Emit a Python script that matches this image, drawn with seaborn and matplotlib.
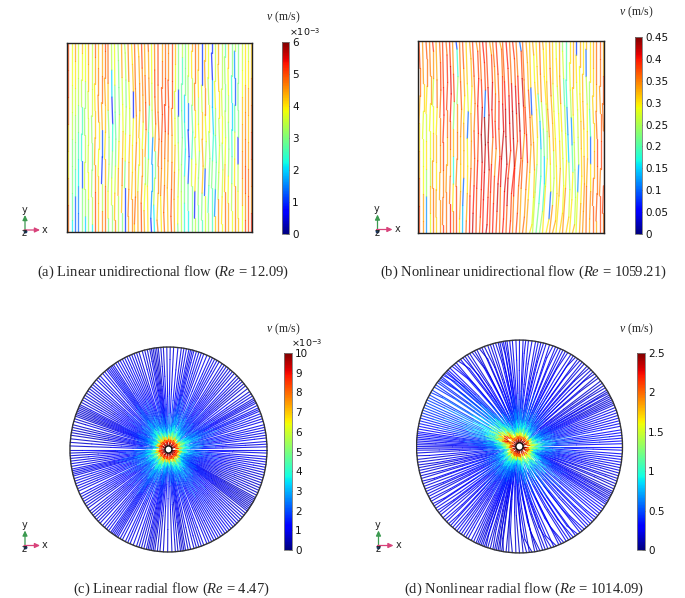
import numpy as np
import pandas as pd
import seaborn as sns
import matplotlib
matplotlib.use('Agg')
import matplotlib.pyplot as plt
from matplotlib.cm import ScalarMappable
from matplotlib.colors import Normalize
from matplotlib.patches import Circle

# streamline positions (px across the panel)
a_x = [1.5, 5, 8, 11.5, 15, 18, 21.5, 25, 28, 31.5, 35, 38, 41.5, 45, 48, 51.5, 55, 58, 61.5, 65, 68, 71.5, 75, 78,
       81.5, 85, 88, 91.5, 95, 98, 101.5, 105, 108, 111.5, 115, 118, 121.5, 125, 128, 131.5, 135, 138, 141.5, 145,
       148, 151.5, 155, 158, 161.5, 165, 168, 171.5, 175, 178, 181, 184]
b_x = [1.5, 5, 8.5, 12, 15, 18.5, 22, 25, 28.5, 32, 35, 38.5, 42, 45, 48.5, 52, 55, 58.5, 62, 65, 68.5, 72, 75, 78.5,
       82, 85, 88.5, 92, 95, 98.5, 102, 105, 108.5, 112, 115, 118.5, 122, 125, 128.5, 132, 135, 138.5, 142, 145,
       148.5, 152, 155, 158.5, 162, 165, 168.5, 172, 175, 178.5, 182, 185]

# speed per line, top to bottom (x 1e-3 m/s)
a_speed = [
    [5.0, 5.0, 4.8, 4.2, 4.0, 4.4, 4.8], [3.8, 3.6, 3.4, 3.0, 3.0, 2.8, 2.2], [4.4, 4.0, 3.6, 3.2, 3.0, 2.6, 1.3],
    [3.6, 3.4, 3.0, 2.6, 2.2, 1.6, 1.4], [4.2, 3.8, 3.4, 2.6, 2.4, 1.2, 3.0], [3.8, 3.2, 3.2, 3.4, 3.6, 3.2, 2.0],
    [4.4, 4.2, 3.6, 3.6, 3.6, 3.8, 3.2], [3.6, 3.6, 3.2, 3.0, 3.2, 3.4, 2.2], [4.8, 4.4, 4.0, 4.2, 4.4, 4.6, 5.0],
    [4.2, 4.6, 4.6, 4.0, 3.8, 4.2, 4.2], [4.4, 4.8, 4.4, 1.2, 1.0, 3.4, 4.6], [5.0, 4.8, 4.4, 4.2, 4.0, 4.4, 4.8],
    [4.8, 4.2, 3.2, 3.2, 3.4, 3.8, 3.0], [3.4, 2.0, 0.9, 2.4, 3.0, 3.6, 3.2], [3.8, 3.0, 2.8, 3.0, 3.6, 4.2, 4.6],
    [3.2, 3.0, 3.0, 3.4, 4.0, 4.4, 3.4], [4.4, 3.6, 3.8, 4.2, 4.6, 4.2, 3.0], [3.4, 3.4, 3.0, 3.4, 3.8, 3.0, 1.0],
    [4.6, 3.8, 3.6, 4.2, 4.4, 4.6, 4.4], [4.0, 4.2, 0.9, 3.8, 4.0, 4.2, 4.6], [4.8, 4.6, 4.4, 4.6, 4.4, 4.8, 4.2],
    [4.2, 4.4, 4.6, 4.2, 4.0, 3.6, 4.4], [5.0, 4.6, 4.4, 3.8, 4.4, 4.6, 5.0], [4.4, 4.8, 5.0, 4.4, 3.2, 3.8, 4.4],
    [4.8, 4.4, 4.6, 2.8, 2.4, 3.4, 4.0], [3.8, 3.6, 3.4, 1.6, 1.8, 1.6, 0.9], [4.6, 5.0, 4.8, 4.4, 3.0, 3.4, 2.2],
    [5.0, 4.6, 4.8, 4.8, 4.6, 4.2, 4.6], [4.4, 4.8, 5.0, 5.0, 4.8, 4.6, 4.0], [4.8, 5.0, 5.2, 4.8, 4.4, 4.8, 4.8],
    [4.6, 4.6, 5.0, 5.0, 4.6, 4.4, 4.2], [5.0, 5.0, 4.6, 4.4, 4.8, 5.0, 5.0], [4.2, 3.8, 3.6, 3.8, 4.2, 4.6, 4.4],
    [3.0, 1.0, 3.0, 3.4, 3.6, 3.8, 3.0], [3.4, 2.6, 2.8, 2.8, 3.0, 3.2, 3.4], [3.0, 3.0, 2.0, 2.4, 2.2, 3.0, 2.4],
    [3.6, 3.2, 1.4, 1.0, 1.2, 2.8, 2.2], [4.4, 4.0, 3.4, 2.8, 2.6, 3.6, 3.0], [4.8, 4.6, 4.0, 3.6, 4.0, 0.9, 3.4],
    [4.4, 4.0, 3.4, 3.8, 3.2, 3.2, 2.8], [1.0, 3.6, 4.2, 4.4, 4.2, 3.0, 2.6], [4.2, 4.4, 4.6, 3.8, 3.4, 1.2, 3.6],
    [3.8, 3.4, 3.8, 3.2, 3.0, 2.6, 3.2], [1.0, 0.9, 1.8, 2.0, 2.4, 3.0, 2.6], [3.6, 3.8, 3.2, 2.6, 2.8, 1.6, 4.2],
    [4.4, 4.2, 4.0, 3.4, 3.6, 3.4, 4.6], [3.4, 3.6, 3.8, 3.2, 3.6, 4.0, 3.8], [2.8, 3.2, 3.0, 3.4, 3.8, 4.2, 4.8],
    [4.2, 3.8, 3.4, 3.0, 3.2, 3.8, 4.4], [3.0, 2.4, 2.0, 2.4, 2.8, 3.4, 3.8], [3.4, 1.6, 1.2, 2.8, 3.6, 4.0, 4.6],
    [3.0, 3.0, 3.0, 0.9, 3.4, 3.8, 4.2], [3.6, 3.8, 4.2, 4.4, 4.6, 4.4, 3.8], [4.0, 4.4, 4.6, 4.8, 5.0, 4.6, 5.0],
    [3.6, 4.0, 4.4, 4.2, 4.4, 4.8, 5.0], [4.2, 4.6, 4.8, 5.0, 4.8, 4.6, 5.2]]

# speed per line, top to bottom (m/s)
b_speed = [
    [0.38, 0.36, 0.33, 0.31, 0.33, 0.36, 0.38], [0.34, 0.31, 0.28, 0.28, 0.29, 0.33, 0.34],
    [0.37, 0.36, 0.30, 0.27, 0.30, 0.24, 0.12], [0.35, 0.34, 0.29, 0.28, 0.26, 0.32, 0.28],
    [0.39, 0.34, 0.27, 0.29, 0.32, 0.34, 0.36], [0.33, 0.36, 0.30, 0.32, 0.30, 0.33, 0.31],
    [0.36, 0.38, 0.36, 0.35, 0.34, 0.33, 0.34], [0.38, 0.40, 0.39, 0.38, 0.35, 0.36, 0.39],
    [0.36, 0.39, 0.38, 0.36, 0.32, 0.34, 0.36], [0.39, 0.41, 0.40, 0.37, 0.33, 0.36, 0.40],
    [0.34, 0.38, 0.24, 0.32, 0.18, 0.30, 0.36], [0.08, 0.18, 0.24, 0.34, 0.36, 0.35, 0.38],
    [0.35, 0.37, 0.34, 0.32, 0.31, 0.33, 0.30], [0.37, 0.33, 0.30, 0.33, 0.33, 0.10, 0.14],
    [0.31, 0.28, 0.10, 0.29, 0.30, 0.33, 0.36], [0.33, 0.32, 0.30, 0.33, 0.34, 0.37, 0.40],
    [0.38, 0.36, 0.35, 0.38, 0.37, 0.40, 0.42], [0.34, 0.38, 0.40, 0.40, 0.38, 0.40, 0.38],
    [0.36, 0.39, 0.42, 0.43, 0.40, 0.39, 0.36], [0.40, 0.38, 0.10, 0.44, 0.42, 0.41, 0.40],
    [0.38, 0.41, 0.43, 0.42, 0.38, 0.40, 0.42], [0.33, 0.38, 0.41, 0.40, 0.36, 0.40, 0.38],
    [0.36, 0.34, 0.37, 0.39, 0.34, 0.38, 0.40], [0.39, 0.37, 0.40, 0.37, 0.40, 0.42, 0.38],
    [0.33, 0.36, 0.39, 0.41, 0.42, 0.41, 0.36], [0.37, 0.40, 0.42, 0.43, 0.41, 0.40, 0.40],
    [0.40, 0.38, 0.41, 0.40, 0.38, 0.42, 0.37], [0.36, 0.41, 0.43, 0.42, 0.40, 0.38, 0.39],
    [0.39, 0.37, 0.41, 0.38, 0.37, 0.40, 0.35], [0.35, 0.40, 0.43, 0.41, 0.37, 0.36, 0.38],
    [0.10, 0.38, 0.42, 0.38, 0.34, 0.37, 0.33], [0.36, 0.35, 0.38, 0.40, 0.36, 0.34, 0.36],
    [0.33, 0.32, 0.37, 0.35, 0.33, 0.30, 0.33], [0.31, 0.09, 0.32, 0.34, 0.31, 0.28, 0.30],
    [0.33, 0.29, 0.31, 0.31, 0.28, 0.24, 0.26], [0.30, 0.31, 0.20, 0.14, 0.20, 0.18, 0.22],
    [0.36, 0.34, 0.26, 0.22, 0.15, 0.19, 0.24], [0.33, 0.30, 0.30, 0.27, 0.24, 0.28, 0.30],
    [0.30, 0.32, 0.34, 0.31, 0.28, 0.10, 0.30], [0.34, 0.36, 0.33, 0.32, 0.26, 0.26, 0.34],
    [0.31, 0.28, 0.29, 0.30, 0.30, 0.31, 0.33], [0.28, 0.30, 0.27, 0.29, 0.31, 0.33, 0.30],
    [0.33, 0.34, 0.30, 0.28, 0.27, 0.29, 0.31], [0.24, 0.27, 0.21, 0.25, 0.28, 0.30, 0.34],
    [0.20, 0.18, 0.12, 0.15, 0.24, 0.27, 0.31], [0.30, 0.28, 0.25, 0.12, 0.20, 0.29, 0.30],
    [0.33, 0.31, 0.28, 0.26, 0.24, 0.26, 0.32], [0.08, 0.30, 0.28, 0.27, 0.25, 0.12, 0.28],
    [0.33, 0.29, 0.30, 0.32, 0.31, 0.30, 0.33], [0.30, 0.32, 0.33, 0.30, 0.33, 0.34, 0.34],
    [0.32, 0.10, 0.26, 0.29, 0.31, 0.33, 0.36], [0.30, 0.24, 0.20, 0.10, 0.30, 0.34, 0.33],
    [0.33, 0.31, 0.31, 0.31, 0.33, 0.36, 0.37], [0.36, 0.33, 0.36, 0.38, 0.36, 0.37, 0.33],
    [0.37, 0.36, 0.34, 0.37, 0.38, 0.35, 0.38], [0.33, 0.37, 0.36, 0.38, 0.35, 0.38, 0.36]]

# sideways drift of the lines (px), one row per height from the top, one column per x zone
a_bend = [[0, 0, 0, 0, 0, 0, 0], [0, 0, 1, 0, 0, 0, 0], [0, 0, 2, 0, 0, 1, 0], [0, 1, 2, 1, 0, 1, 0],
          [0, 1, 1, 0, 1, 2, 0], [0, 0, 1, 0, 0, 1, 0], [0, 0, 0, -1, 0, 0, 0], [0, 0, 0, 0, 0, 0, 0]]
b_bend = [[0, 0, 0, 0, 0, 0, 0], [1, 1, 2, 2, 1, 0, 0], [1, 2, 3, 3, 2, 1, 0], [0, 1, 2, 4, 4, 2, 1],
          [0, 1, 3, 5, 5, 3, 1], [0, 1, 2, 2, 5, 4, 1], [0, 0, 1, 1, 3, 3, 0], [0, 0, 0, 0, 0, 0, 0]]
# where a line changes colour is not level across lines (percent of the height)
break_shift = [0, -8, 5, -4, 9, -6, 3, -10, 7, 1, -3, 10, -7]

# radial streamlines, angle where each one leaves the rim (deg)
c_angles = [
    0, 1.5, 3, 4.5, 6.5, 8, 9.5, 11, 12.5, 14, 16, 17.5, 19, 20.5, 22, 23, 24, 25.5, 27, 28, 29, 30, 31.5, 33, 34.5,
    36.5, 38.5, 40, 41.5, 43, 44.5, 46, 48, 49.5, 51, 52.5, 54, 55.5, 57, 59, 60.5, 62, 63.5, 65, 67, 69, 70.5, 72,
    73.5, 75, 76, 77, 78, 79.5, 81, 82.5, 84.5, 87, 89, 91, 93, 94.5, 96, 97, 98, 99, 100, 101, 102.5, 104, 105.5,
    107.5, 109, 110.5, 112, 113.5, 115, 116.5, 118, 119.5, 121, 122.5, 124, 125, 126, 127, 128, 129, 130.5, 132, 134,
    135.5, 137, 139, 140.5, 142, 143.5, 145, 146.5, 148, 149.5, 151, 152.5, 154, 155, 156, 157, 158, 159, 160, 161,
    162.5, 164, 166, 167.5, 169, 170.5, 172, 174, 176, 178, 180, 182, 183.5, 185, 186.5, 188, 189.5, 191, 192, 193,
    194, 195, 196.5, 198, 199.5, 201, 202.5, 204, 206, 207.5, 209, 210.5, 212, 213.5, 215, 217, 218.5, 220, 221.5,
    223, 224.5, 226, 228, 229.5, 231, 232.5, 234, 235, 236, 237, 238, 239, 240.5, 242, 244, 245.5, 247, 249, 251,
    252.5, 254, 255.5, 257, 258, 259, 260, 261, 262, 263.5, 265, 267, 269.5, 272, 274, 275.5, 277, 278, 279, 280,
    281.5, 283, 285, 286.5, 288, 289.5, 291, 293, 294.5, 296, 297.5, 299, 300.5, 302, 303.5, 305, 306.5, 308, 309.5,
    311, 312.5, 314, 315.5, 317, 318.5, 320, 321.5, 323, 324, 325, 326, 327, 328, 329, 330, 331, 332, 333.5, 335,
    336.5, 338, 339.5, 341, 342.5, 344, 345.5, 347, 348.5, 350, 351.5, 353, 354.5, 356, 358]
d_angles = [
    0, 1.5, 3, 4.5, 6, 7.5, 9, 11, 12.5, 14, 15.5, 17, 18.5, 20, 21.5, 23, 24, 25, 26, 27, 28, 29, 30, 31, 32, 33.5,
    35, 36.5, 38, 40, 41.5, 43, 44.5, 46, 47.5, 49, 51, 52.5, 54, 55.5, 57, 58.5, 60, 62, 63.5, 65, 66.5, 68, 69.5,
    71, 73, 75, 76.5, 78, 79.5, 81, 83, 85, 86.5, 88, 90, 92, 94, 95.5, 97, 98, 99, 100, 101, 102, 103.5, 105, 106.5,
    108, 110, 111.5, 113, 114.5, 116, 117.5, 119, 120.5, 122, 123.5, 125, 126.5, 128, 129.5, 131, 132.5, 134, 135,
    136, 137, 138, 139, 140, 141, 142, 143, 144.5, 146, 148, 149.5, 151, 152.5, 154, 155.5, 157, 158.5, 160, 161.5,
    163, 164.5, 166, 167.5, 169, 170.5, 172, 173, 174, 175, 176, 177, 178, 179, 180, 181, 182, 183.5, 185, 187, 188.5,
    190, 191.5, 193, 194.5, 196, 197.5, 199, 200.5, 202, 203.5, 205, 206.5, 208, 209.5, 211, 212.5, 214, 215.5, 217,
    218.5, 220, 222, 223.5, 225, 226.5, 228, 229.5, 231, 232.5, 234, 235.5, 237, 238.5, 240, 242, 243.5, 245, 246,
    247, 248, 249, 250, 251, 252, 253.5, 255, 256, 257, 258, 259, 260, 261, 262.5, 264, 266, 268, 270, 272, 274, 275.5,
    277, 278.5, 280, 281.5, 283, 284.5, 286, 288, 289.5, 291, 292.5, 294, 295.5, 297, 298.5, 300, 301.5, 303, 304.5,
    306, 307.5, 309, 310.5, 312, 313.5, 315, 316.5, 318, 319.5, 321, 322.5, 324, 325.5, 327, 328, 329, 330, 331, 332,
    333, 334, 335, 336.5, 338, 339.5, 341, 342.5, 344, 345.5, 347, 348.5, 350, 351.5, 353, 354.5, 356, 358]

# fraction of the radius, and speed there
r_stations = [0.035, 0.055, 0.075, 0.10, 0.13, 0.18, 0.26, 0.40, 0.65, 1.0]
c_profile = [10, 8.8, 6.8, 4.8, 3.6, 2.7, 1.9, 1.3, 0.9, 0.6]
d_profile = [2.5, 2.1, 1.6, 1.2, 0.9, 0.65, 0.45, 0.32, 0.24, 0.17]
bend_weight = [1, 1, 1, 1, 1, 0.95, 0.85, 0.6, 0.3, 0]
# streamlines merge toward the well: first station of each line, and how far out its colours sit
line_start = [0, 4, 2, 5, 1, 6, 3, 5, 2, 6, 4, 0, 5, 3, 6, 4, 1, 5]
line_reach = [1.0, 0.85, 1.2, 0.9, 1.35, 0.8, 1.1, 1.25, 0.95]

# per 15 deg sector from +x, counter clockwise
c_gain = [1.0, 1.1, 0.8, 0.9, 1.1, 1.0, 0.8, 1.0, 1.1, 0.9, 0.8, 0.7, 1.0, 1.0, 0.9, 1.1, 1.0, 0.8, 0.8, 1.0, 1.1, 0.8, 0.7, 1.0]
d_gain = [1.2, 0.9, 0.7, 0.9, 1.0, 1.0, 1.0, 0.8, 1.0, 1.7, 2.0, 1.2, 0.8, 0.9, 1.0, 1.0, 0.9, 0.7, 0.8, 1.0, 1.1, 1.2, 0.7, 1.1]
c_bend = [0] * 24
d_bend = [0, 0, 4, 6, 5, 3, -2, -8, -10, -6, 0, 0, 2, 3, 4, 2, -2, -6, -12, -14, -8, 0, 2, 0]
sector_mid = [7.5, 22.5, 37.5, 52.5, 67.5, 82.5, 97.5, 112.5, 127.5, 142.5, 157.5, 172.5, 187.5, 202.5, 217.5, 232.5,
              247.5, 262.5, 277.5, 292.5, 307.5, 322.5, 337.5, 352.5]

a_ticks = [0, 1, 2, 3, 4, 5, 6]
b_ticks = [0, 0.05, 0.1, 0.15, 0.2, 0.25, 0.3, 0.35, 0.4, 0.45]
b_labels = ['0', '0.05', '0.1', '0.15', '0.2', '0.25', '0.3', '0.35', '0.4', '0.45']
c_ticks = [0, 1, 2, 3, 4, 5, 6, 7, 8, 9, 10]
d_ticks = [0, 0.5, 1, 1.5, 2, 2.5]
d_labels = ['0', '0.5', '1', '1.5', '2', '2.5']

captions = [r'(a) Linear unidirectional flow ($\mathit{Re}$ = 12.09)',
            r'(b) Nonlinear unidirectional flow ($\mathit{Re}$ = 1059.21)',
            r'(c) Linear radial flow ($\mathit{Re}$ = 4.47)',
            r'(d) Nonlinear radial flow ($\mathit{Re}$ = 1014.09)']

W, H = 685, 598
jet = plt.get_cmap('jet')


def make_axes(left, top, right, bottom):
    return fig.add_axes([left / W, 1 - bottom / H, (right - left) / W, (bottom - top) / H])


def straight_lines(ax, xs, speed, bend, width, vmax):
    rows = []
    height = 100
    zones = [(z + 0.5) * width / len(bend[0]) for z in range(len(bend[0]))]
    for i, x0 in enumerate(xs):
        n = len(speed[i])
        shift = break_shift[i % len(break_shift)]
        xv = [x0 + np.interp(x0, zones, bend[j]) for j in range(n + 1)]
        yv = [height - j * height / n + (shift if 0 < j < n else 0) for j in range(n + 1)]
        for k in range(n):
            for j in (k, k + 1):
                rows.append((f'{i}-{k}', xv[j], yv[j], speed[i][k]))
    df = pd.DataFrame(rows, columns=['seg', 'x', 'y', 'speed'])
    sns.lineplot(data=df, x='x', y='y', hue='speed', units='seg', estimator=None, sort=False, palette=jet,
                 hue_norm=(0, vmax), legend=False, linewidth=0.95, alpha=0.72, ax=ax)
    ax.set_xlim(0, width)
    ax.set_ylim(0, height)
    ax.set_xticks([])
    ax.set_yticks([])
    ax.set_xlabel('')
    ax.set_ylabel('')
    for s in ax.spines.values():
        s.set_visible(True)
        s.set_color('#222222')
        s.set_linewidth(1.0)


def radial_lines(ax, angles, profile, gain, bend, vmax):
    rows = []
    last = len(r_stations) - 1
    for i, a in enumerate(angles):
        g = np.interp(a, sector_mid, gain, period=360)
        b = np.interp(a, sector_mid, bend, period=360)
        th = np.deg2rad([a + b * w for w in bend_weight])
        reach = line_reach[i % len(line_reach)]
        rv = [r_stations[j] * (reach if 0 < j < last else 1) for j in range(last + 1)]
        for k in range(line_start[i % len(line_start)], last):
            v = profile[k] if k < 3 else min(profile[k] * g, vmax)
            for j in (k, k + 1):
                rows.append((f'{i}-{k}', rv[j] * np.cos(th[j]), rv[j] * np.sin(th[j]), v))
    df = pd.DataFrame(rows, columns=['seg', 'x', 'y', 'speed'])
    sns.lineplot(data=df, x='x', y='y', hue='speed', units='seg', estimator=None, sort=False, palette=jet,
                 hue_norm=(0, vmax), legend=False, linewidth=0.8, alpha=0.85, ax=ax)
    ax.add_patch(Circle((0, 0), 1.0, fill=False, ec='#333333', lw=1.0, zorder=5))
    ax.add_patch(Circle((0, 0), 0.035, fc='white', ec='#111111', lw=1.0, zorder=5))
    ax.set_xlim(-1.01, 1.01)
    ax.set_ylim(-1.01, 1.01)
    ax.axis('off')


def color_bar(left, top, right, bottom, vmax, ticks, labels):
    cax = make_axes(left, top, right, bottom)
    cb = fig.colorbar(ScalarMappable(Normalize(0, vmax), jet), cax=cax)
    cb.set_ticks(ticks)
    cb.set_ticklabels(labels)
    cb.ax.tick_params(length=2, width=0.5, direction='in', labelsize=7.5, pad=2.5, colors='#111111')
    cb.outline.set_edgecolor('#777777')
    cb.outline.set_linewidth(0.6)


def triad(ov, x0, y0):
    ov.annotate('', xy=(x0, y0 - 15), xytext=(x0, y0 + 1),
                arrowprops=dict(arrowstyle='-|>,head_width=0.12,head_length=0.25', color='#3c9a50', lw=0.9, shrinkA=0, shrinkB=0))
    ov.annotate('', xy=(x0 + 15, y0), xytext=(x0 - 1, y0),
                arrowprops=dict(arrowstyle='-|>,head_width=0.12,head_length=0.25', color='#d8427a', lw=0.9, shrinkA=0, shrinkB=0))
    ov.plot([x0], [y0 + 1], 'o', ms=1.8, color='#1a3a6a')
    ov.text(x0 - 0.5, y0 - 20, 'y', ha='center', va='center', fontsize=7, color='#222222')
    ov.text(x0 + 20, y0, 'x', ha='center', va='center', fontsize=7, color='#222222')
    ov.text(x0 - 0.5, y0 + 3, 'z', ha='center', va='center', fontsize=7, color='#222222')


sns.set_theme(style='white')
plt.rcParams['font.family'] = ['DejaVu Sans']
plt.rcParams['mathtext.fontset'] = 'custom'
plt.rcParams['mathtext.rm'] = 'Liberation Serif'
plt.rcParams['mathtext.it'] = 'Liberation Serif:italic'
plt.rcParams['mathtext.sf'] = 'DejaVu Sans'

fig = plt.figure(figsize=(W / 100, H / 100), dpi=100)

straight_lines(make_axes(66.5, 43, 252, 232), a_x, a_speed, a_bend, 185.5, 6)
straight_lines(make_axes(417.5, 41, 604, 233), b_x, b_speed, b_bend, 186.5, 0.45)
radial_lines(make_axes(69, 346, 268, 553), c_angles, c_profile, c_gain, c_bend, 10)
radial_lines(make_axes(415.5, 339, 623.5, 554), d_angles, d_profile, d_gain, d_bend, 2.5)

color_bar(281.5, 42, 288.5, 234, 6, a_ticks, a_ticks)
color_bar(634.5, 37, 642, 234, 0.45, b_ticks, b_labels)
color_bar(283.5, 353, 291.5, 550, 10, c_ticks, c_ticks)
color_bar(637, 353, 644.5, 550, 2.5, d_ticks, d_labels)

ov = fig.add_axes([0, 0, 1, 1], zorder=10)
ov.set_xlim(0, W)
ov.set_ylim(H, 0)
ov.axis('off')

for x0, y0 in [(25, 230), (377.5, 229.5), (25, 545.5), (378.5, 545.5)]:
    triad(ov, x0, y0)

for x0, y0 in [(283, 17), (636, 12.5), (283, 329), (636, 329)]:
    ov.text(x0, y0, r'$\mathit{v}$ (m/s)', ha='center', va='center', fontsize=8.5, family='Liberation Serif')

for x0, y0 in [(289, 32), (291, 343)]:
    ov.text(x0, y0, r'×10$^{\mathsf{-3}}$', ha='left', va='center', fontsize=6.8, color='#111111')

for (x0, y0), cap in zip([(163.5, 272), (523, 272), (171, 589), (524, 589)], captions):
    ov.text(x0, y0, cap, ha='center', va='center', fontsize=10.5, family='Liberation Serif')

fig.savefig('out.png', dpi=100)
